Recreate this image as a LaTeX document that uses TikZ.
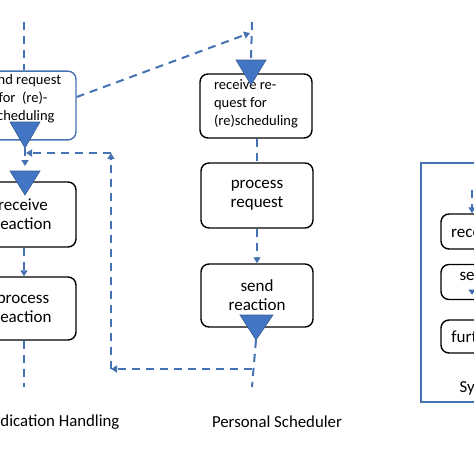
\documentclass[tikz,border=0pt]{standalone}
\usepackage{fontspec}
\setmainfont{Carlito}
\usetikzlibrary{positioning,arrows.meta}
\definecolor{flowblue}{RGB}{68,114,178}
\definecolor{markblue}{RGB}{66,118,196}
\begin{document}
\begin{tikzpicture}[x=1pt,y=-1pt,
    taskbox/.style={draw,rounded corners=8pt,line width=1.4pt,minimum width=112pt,minimum height=64pt,align=center,font=\fontsize{17}{19}\selectfont},
    smalltext/.style={font=\fontsize{14.5}{18}\selectfont},
    flow/.style={draw=flowblue,line width=2pt,dash pattern=on 8pt off 6pt},
    tip/.style={-{Triangle[length=6pt,width=7pt]}},
    marker/.style={fill=markblue,draw=flowblue!80!black,line width=0.6pt},
    lane/.style={font=\fontsize{16.8}{18}\selectfont}]
  \useasboundingbox (0,0) rectangle (474,474);
  \clip (0,0) rectangle (474,474);
  % left lane
  \node[taskbox,smalltext,draw=flowblue,minimum width=106pt,minimum height=65pt,text depth=16pt] (sendreq) at (23,105.5) {send request\\for~ (re)-\\scheduling};
  \node[taskbox,minimum width=106pt,minimum height=65pt] (recvreact) at (23,214.5) {receive\\reaction};
  \node[taskbox,minimum width=106pt,minimum height=63pt] (procreact) at (23,308.5) {process\\reaction};
  \node[lane,anchor=east] (medlabel) at (123,422) {Medication Handling};
  % middle lane
  \node[taskbox,smalltext,align=left,minimum height=64pt,text depth=6pt] (recvreq) at (256,106) {receive re-\\quest for\\(re)scheduling};
  \node[taskbox,minimum height=65pt] (procreq) at (257,195.5) {process\\request};
  \node[taskbox,minimum height=63pt] (sendreact) at (257,295.5) {send\\reaction};
  \node[lane] (schedlabel) at (277,422) {Personal Scheduler};
  % right lane
  \draw[flowblue,line width=1.4pt] (421,163) rectangle (500,402);
  \node[taskbox,minimum width=70pt,minimum height=35pt] (sysrecv) at (476,231.5) {receive};
  \node[taskbox,minimum width=70pt,minimum height=35pt,text depth=14pt] (syssend) at (476,282) {send};
  \node[taskbox,minimum width=70pt,minimum height=33pt] (sysfurther) at (476,336.5) {further};
  \node[lane,anchor=west] (syslabel) at (456,388) {System};
  % coordinates for the loose ends
  \coordinate (medtop) at (24,22);
  \coordinate (medbot) at (24,387);
  \coordinate (schedtop) at (252,22);
  \coordinate (schedbot) at (252,387);
  \coordinate (reqin) at (250,33);
  \coordinate (loopa) at (252,369);
  \coordinate (loopb) at (111,369);
  \coordinate (loopc) at (111,153);
  \coordinate (loopd) at (26,153);
  % markers
  \filldraw[marker] (10,122) -- (40,122) -- (25,148) -- cycle;
  \filldraw[marker] (10,171) -- (40,171) -- (25,195) -- cycle;
  \filldraw[marker] (236,60) -- (266,60) -- (251,85) -- cycle;
  \filldraw[marker] (240,315) -- (273,315) -- (256,340) -- cycle;
  \filldraw[marker] (469,290) -- (475,290) -- (472,294) -- cycle;
  % connectors
  \draw[flow] (medtop) -- (sendreq.north -| medtop);
  \draw[flow,tip] (25,148) -- (25,166);
  \draw[flow,tip] (recvreact.south -| medtop) -- (procreact.north -| medtop);
  \draw[flow] (procreact.south -| medtop) -- (medbot);
  \draw[flow,tip] (sendreq.east |- 0,97) -- (reqin);
  \draw[flow] (schedtop) -- (251,60);
  \draw[flow] (recvreq.south -| procreq) -- (procreq.north);
  \draw[flow,tip] (procreq.south) -- (sendreact.north);
  \draw[flow] (256,340) -- (schedbot);
  \draw[flow,tip] (loopa) -- (loopb);
  \draw[flow,tip] (loopb) -- (loopc);
  \draw[flow,tip] (loopc) -- (loopd);
  \draw[flow,tip] (472,190) -- (sysrecv.north -| 472,0);
\end{tikzpicture}
\end{document}
